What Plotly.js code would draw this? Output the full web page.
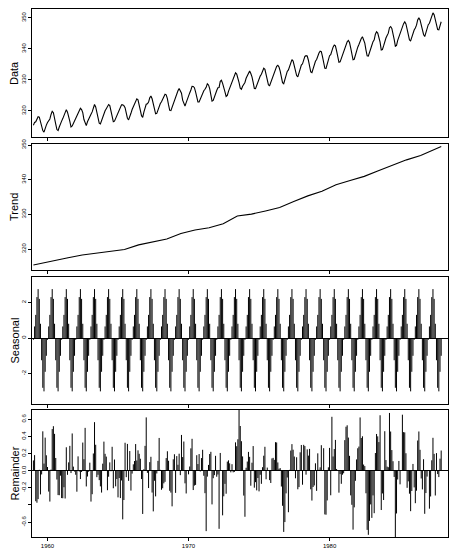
<!DOCTYPE html>
<html>
<head>
<meta charset="utf-8">
<script src="https://cdn.plot.ly/plotly-3.0.1.min.js"></script>
<style>html,body{margin:0;padding:0;background:#fff;}#chart{width:474px;height:553px;}</style>
</head>
<body>
<div id="chart"></div>
<script>
// Monthly CO2 (ppm), Jan 1959 .. Dec 1987
const startYear = 1959;
const co2Monthly = [
315.42,316.31,316.50,317.56,318.13,318.00,316.39,314.65,313.68,313.18,314.66,315.43,
316.27,316.81,317.42,318.87,319.87,319.43,318.01,315.74,314.00,313.68,314.84,316.03,
316.73,317.54,318.38,319.31,320.42,319.61,318.42,316.63,314.83,315.16,315.94,316.85,
317.78,318.40,319.53,320.42,320.85,320.45,319.45,317.25,316.11,315.27,316.53,317.53,
318.58,318.92,319.70,321.22,322.08,321.31,319.58,317.61,316.05,315.83,316.91,318.20,
319.41,320.07,320.74,321.40,322.06,321.73,320.27,318.54,316.54,316.71,317.53,318.55,
319.27,320.28,320.73,321.97,322.00,321.71,321.05,318.71,317.66,317.14,318.70,319.25,
320.46,321.43,322.23,323.54,323.91,323.59,322.24,320.20,318.48,317.94,319.63,320.87,
322.17,322.34,322.88,324.25,324.83,323.93,322.38,320.76,319.10,319.24,320.56,321.80,
322.40,322.99,323.73,324.86,325.40,325.20,323.98,321.95,320.18,320.09,321.16,322.74,
323.83,324.26,325.47,326.50,327.21,326.54,325.72,323.50,322.22,321.62,322.69,323.95,
324.89,325.82,326.77,327.97,327.91,327.50,326.18,324.53,322.93,322.90,323.85,324.96,
326.01,326.51,327.01,327.62,328.76,328.40,327.20,325.27,323.20,323.40,324.63,325.85,
326.60,327.47,327.58,329.56,329.90,328.92,327.88,326.16,324.68,325.04,326.34,327.39,
328.37,329.40,330.14,331.33,332.31,331.90,330.70,329.15,327.35,327.02,327.99,328.48,
329.18,330.55,331.32,332.48,332.92,332.08,331.01,329.23,327.27,327.21,328.29,329.41,
330.23,331.25,331.87,333.14,333.80,333.43,331.73,329.90,328.40,328.17,329.32,330.59,
331.58,332.39,333.33,334.41,334.71,334.17,332.89,330.77,329.14,328.78,330.14,331.52,
332.75,333.24,334.53,335.90,336.57,336.10,334.76,332.59,331.42,330.98,332.24,333.68,
334.80,335.22,336.47,337.59,337.84,337.72,336.37,334.51,332.60,332.38,333.75,334.78,
336.05,336.59,337.79,338.71,339.30,339.12,337.56,335.92,333.75,333.70,335.12,336.56,
337.84,338.19,339.91,340.60,341.29,341.00,339.39,337.43,335.72,335.84,336.93,338.04,
339.06,340.30,341.21,342.33,342.74,342.08,340.32,338.26,336.52,336.68,338.19,339.44,
340.57,341.44,342.53,343.39,343.96,343.18,341.88,339.65,337.81,337.69,339.09,340.32,
341.20,342.35,342.93,344.77,345.58,345.14,343.81,342.21,339.69,339.82,340.98,342.82,
343.52,344.33,345.11,346.88,347.25,346.62,345.22,343.11,340.90,341.18,342.80,344.04,
344.79,345.82,347.25,348.17,348.74,348.07,346.38,344.51,342.92,342.62,344.06,345.38,
346.11,346.78,347.68,349.37,350.03,349.37,347.76,345.73,344.68,343.99,345.48,346.72,
347.84,348.29,349.23,350.80,351.66,351.07,349.33,347.92,346.27,346.18,347.64,348.78
];

// Trend (ppm) read at these times
const trendTimes = [1959.0,1959.46,1960.46,1961.46,1962.46,1963.46,1964.46,1965.46,1966.46,1967.46,1968.46,
  1969.46,1970.46,1971.46,1972.46,1973.46,1974.46,1975.46,1976.46,1977.46,1978.46,1979.46,1980.46,
  1981.46,1982.46,1983.46,1984.46,1985.46,1986.46,1987.46,1987.92];
const trendValues = [315.40,315.83,316.75,317.49,318.30,318.83,319.46,319.87,321.21,322.02,322.89,
  324.46,325.52,326.16,327.29,329.51,330.08,330.99,331.99,333.73,335.34,336.68,338.52,
  339.76,340.96,342.61,344.25,345.73,346.98,348.75,349.55];

// Seasonal component, Jan..Dec
const seasonalPattern = [-0.10,0.65,1.30,2.30,2.75,2.20,0.80,-1.25,-2.80,-3.00,-1.90,-1.00];

const xTickVals = [1960,1970,1980];
const xTickText = ['1960','1970','1980'];
const panelTitles = ['Data','Trend','Seasonal','Remainder'];
const dataTicks = [320,330,340,350];
const trendTicks = [320,330,340,350];
const seasonalTicks = [-2,0,2];
const remainderTicks = [-0.6,-0.4,-0.2,0.0,0.2,0.4,0.6];
const remainderTickText = ['-0.6','','-0.2','0.0','0.2','0.4','0.6'];

// ---- derived series ----
const times = co2Monthly.map((v,i)=>startYear + i/12);
function trendAt(t){
  for(let k=0;k<trendTimes.length-1;k++){
    if(t<=trendTimes[k+1]){
      const f=(t-trendTimes[k])/(trendTimes[k+1]-trendTimes[k]);
      return trendValues[k]+f*(trendValues[k+1]-trendValues[k]);
    }
  }
  return trendValues[trendValues.length-1];
}
const seasonal = co2Monthly.map((v,i)=>seasonalPattern[i%12]);
const remainder = co2Monthly.map((v,i)=>v - trendAt(times[i]) - seasonal[i]);

function spikes(xs, ys){
  const X=[],Y=[];
  xs.forEach((x,i)=>{X.push(x,x,null);Y.push(0,ys[i],null);});
  return {x:X,y:Y};
}
const sS = spikes(times, seasonal);
const sR = spikes(times, remainder);

const traces = [
  {x:times,y:co2Monthly,type:'scatter',mode:'lines',line:{color:'#000',width:1.1},xaxis:'x',yaxis:'y',hoverinfo:'skip'},
  {x:trendTimes,y:trendValues,type:'scatter',mode:'lines',line:{color:'#000',width:1.1},xaxis:'x2',yaxis:'y2',hoverinfo:'skip'},
  {x:sS.x,y:sS.y,type:'scatter',mode:'lines',line:{color:'#000',width:1},xaxis:'x3',yaxis:'y3',hoverinfo:'skip',connectgaps:false},
  {x:sR.x,y:sR.y,type:'scatter',mode:'lines',line:{color:'#000',width:1},xaxis:'x4',yaxis:'y4',hoverinfo:'skip',connectgaps:false}
];

const H = 528;
function dom(top,bottom){return [(537-bottom)/H,(537-top)/H];}
const domains = [dom(9,137),dom(144,270),dom(277,404),dom(410,537)];
const FONT = 'Liberation Sans, Arial, sans-serif';

function xax(i,labels){
  return {domain:[0,1],range:[1958.9,1988.4],anchor:'y'+(i===1?'':i),
    tickvals:xTickVals,ticktext:xTickText,showticklabels:labels,
    ticks:'outside',ticklen:3,tickwidth:1,tickcolor:'#000',
    showline:true,linecolor:'#000',linewidth:1,mirror:true,
    showgrid:false,zeroline:false,
    tickfont:{family:FONT,size:6,color:'#000'}};
}
function yax(i,range,tv,tt,zero){
  return {domain:domains[i-1],range:range,anchor:'x'+(i===1?'':i),
    tickvals:tv,ticktext:tt,tickangle:-90,
    ticks:'outside',ticklen:3,tickwidth:1,tickcolor:'#000',
    showline:true,linecolor:'#000',linewidth:1,mirror:true,
    showgrid:false,zeroline:zero,zerolinecolor:'#000',zerolinewidth:1,
    tickfont:{family:FONT,size:6,color:'#000'}};
}

const annotations = panelTitles.map((t,i)=>({
  text:t, xref:'paper', yref:'paper',
  x:(14-32)/416, y:(domains[i][0]+domains[i][1])/2,
  xanchor:'center', yanchor:'middle', textangle:-90, showarrow:false,
  borderpad:0,
  font:{family:FONT,size:11,color:'#000'}
}));

const layout = {
  width:474,height:553,
  margin:{l:32,r:26,t:9,b:16},
  paper_bgcolor:'#fff',plot_bgcolor:'#fff',
  showlegend:false,
  annotations:annotations,
  xaxis:xax(1,false), xaxis2:xax(2,false), xaxis3:xax(3,false), xaxis4:xax(4,true),
  yaxis:yax(1,[311.6,352.9],dataTicks,dataTicks.map(String),false),
  yaxis2:yax(2,[313.96,350.3],trendTicks,trendTicks.map(String),false),
  yaxis3:yax(3,[-3.71,3.43],seasonalTicks,seasonalTicks.map(String),true),
  yaxis4:yax(4,[-0.774,0.709],remainderTicks,remainderTickText,true)
};

Plotly.newPlot('chart',traces,layout,{staticPlot:true,displayModeBar:false});
</script>
</body>
</html>
